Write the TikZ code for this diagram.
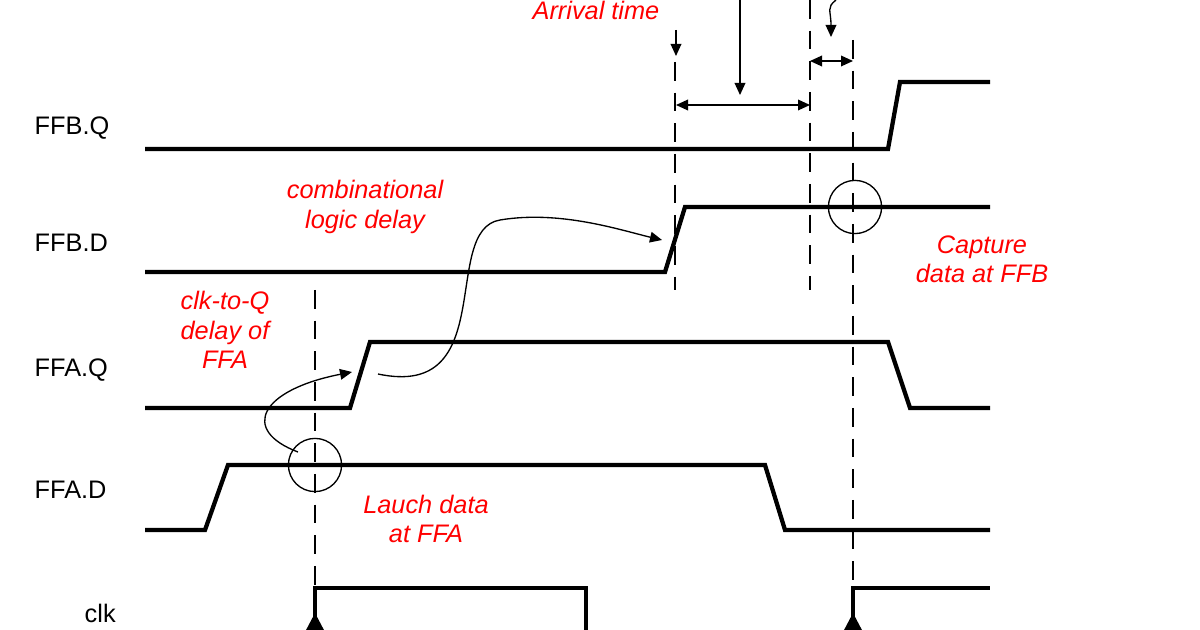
\documentclass[tikz,border=0pt]{standalone}
\usepackage{fontspec}
\setmainfont{Liberation Sans}
\usetikzlibrary{arrows.meta}
\begin{document}
\begin{tikzpicture}[x=0.75pt,y=-0.75pt,
  wave/.style={line width=3.2pt,line join=miter},
  guide/.style={line width=0.8pt,dash pattern=on 14pt off 9pt},
  dim/.style={line width=1pt,{Triangle[length=9pt,width=8pt]}-{Triangle[length=9pt,width=8pt]}},
  ptr/.style={line width=1pt,-{Triangle[length=9pt,width=8pt]}},
  lbl/.style={font=\fontsize{19}{22}\selectfont,anchor=west},
  note/.style={font=\fontsize{19}{22}\selectfont\itshape,text=red,align=center}]
\useasboundingbox (0,0) rectangle (1200,630);
\fill[white] (0,0) rectangle (1200,630);
% labels
\node[lbl] (lq) at (30,128) {FFB.Q};
\node[lbl] (ld) at (30,243) {FFB.D};
\node[lbl] (laq) at (30,370) {FFA.Q};
\node[lbl] (lad) at (30,490) {FFA.D};
\node[lbl] (lc) at (80,613) {clk};
% guides
\draw[guide] (315,290) -- (315,600);
\draw[guide] (853,40) -- (853,600);
\draw[guide] (675,62) -- (675,290);
\draw[guide] (810,0) -- (810,290);
% waves
\draw[wave] (145,149) -- (888,149) -- (900,82) -- (990,82);
\draw[wave] (145,272) -- (665,272) -- (685,207) -- (990,207);
\draw[wave] (145,408) -- (350,408) -- (370,342) -- (888,342) -- (910,408) -- (990,408);
\draw[wave] (145,530) -- (205,530) -- (228,465) -- (765,465) -- (785,530) -- (990,530);
\draw[wave] (315,640) -- (315,588) -- (586,588) -- (586,640);
\draw[wave] (853,640) -- (853,588) -- (990,588);
\fill (315,613) -- (305,632) -- (325,632) -- cycle;
\fill (853,613) -- (843,632) -- (863,632) -- cycle;
% circles
\node[draw,circle,line width=1pt,minimum size=40pt*0.75/0.75*0.75*1.33] (ca) at (315,465) {};
\node[draw,circle,line width=1pt,minimum size=40pt*0.75/0.75*0.75*1.33] (cb) at (855,207) {};
% dimension arrows
\coordinate (a1) at (676,30); \coordinate (a2) at (676,56);
\draw[ptr] (a1) -- (a2);
\coordinate (b1) at (740,0); \coordinate (b2) at (740,95);
\draw[ptr] (b1) -- (b2);
\coordinate (d1) at (676,105); \coordinate (d2) at (810,105);
\draw[dim] (d1) -- (d2);
\coordinate (e1) at (810,61); \coordinate (e2) at (853,61);
\draw[dim] (e1) -- (e2);
\coordinate (f1) at (836,0); \coordinate (f2) at (831,37);
\draw[ptr] (f1) .. controls (826,8) and (831,10) .. (f2);
% curves
\coordinate (g1) at (298,452); \coordinate (g2) at (352,372);
\draw[ptr] (g1) .. controls (240,430) and (260,390) .. (g2);
\coordinate (h1) at (378,374); \coordinate (h2) at (662,240);
\draw[ptr] (h1) .. controls (500,400) and (440,230) .. (500,220) .. controls (560,210) and (620,230) .. (h2);
% notes
\node[note] (n1) at (596,10) {Arrival time};
\node[note] (n2) at (365,207) {combinational\\logic delay};
\node[note] (n3) at (225,330) {clk-to-Q\\delay of\\FFA};
\node[note] (n4) at (426,519) {Lauch data\\at FFA};
\node[note] (n5) at (982,259) {Capture\\data at FFB};
\end{tikzpicture}
\end{document}
